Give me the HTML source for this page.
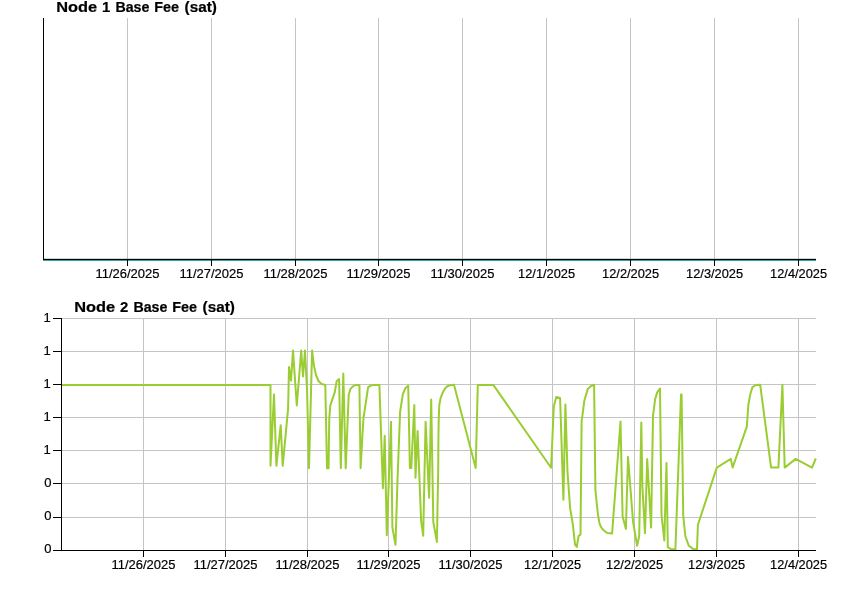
<!DOCTYPE html>
<html><head><meta charset="utf-8"><title>Base Fee Charts</title>
<style>
html,body{margin:0;padding:0;background:#fff;}
body{width:860px;height:600px;overflow:hidden;}
svg{display:block;}
text{font-family:"Liberation Sans",sans-serif;fill:#000;}
.t{font-weight:bold;font-size:15px;stroke:#000;stroke-width:.2px;}
.l{font-size:13px;stroke:#000;stroke-width:.2px;}
</style></head><body>
<svg width="860" height="600" viewBox="0 0 860 600">
<rect width="860" height="600" fill="#fff"/>
<g shape-rendering="crispEdges">
<rect x="127" y="18" width="1" height="241" fill="#c4c4c4"/>
<rect x="211" y="18" width="1" height="241" fill="#c4c4c4"/>
<rect x="295" y="18" width="1" height="241" fill="#c4c4c4"/>
<rect x="378" y="18" width="1" height="241" fill="#c4c4c4"/>
<rect x="462" y="18" width="1" height="241" fill="#c4c4c4"/>
<rect x="546" y="18" width="1" height="241" fill="#c4c4c4"/>
<rect x="630" y="18" width="1" height="241" fill="#c4c4c4"/>
<rect x="714" y="18" width="1" height="241" fill="#c4c4c4"/>
<rect x="798" y="18" width="1" height="241" fill="#c4c4c4"/>
</g>
<line x1="43" y1="259.8" x2="816" y2="259.8" stroke="#008080" stroke-width="2"/>
<g shape-rendering="crispEdges">
<rect x="43" y="18" width="1" height="242" fill="#000"/>
<rect x="43" y="259" width="773" height="1" fill="#000"/>
<rect x="127" y="260" width="1" height="6" fill="#000"/>
<rect x="211" y="260" width="1" height="6" fill="#000"/>
<rect x="295" y="260" width="1" height="6" fill="#000"/>
<rect x="378" y="260" width="1" height="6" fill="#000"/>
<rect x="462" y="260" width="1" height="6" fill="#000"/>
<rect x="546" y="260" width="1" height="6" fill="#000"/>
<rect x="630" y="260" width="1" height="6" fill="#000"/>
<rect x="714" y="260" width="1" height="6" fill="#000"/>
<rect x="798" y="260" width="1" height="6" fill="#000"/>
</g>
<text class="l" x="127.5" y="278.3" text-anchor="middle" textLength="64.0" lengthAdjust="spacingAndGlyphs">11/26/2025</text>
<text class="l" x="211.5" y="278.3" text-anchor="middle" textLength="64.0" lengthAdjust="spacingAndGlyphs">11/27/2025</text>
<text class="l" x="295.5" y="278.3" text-anchor="middle" textLength="64.0" lengthAdjust="spacingAndGlyphs">11/28/2025</text>
<text class="l" x="378.5" y="278.3" text-anchor="middle" textLength="64.0" lengthAdjust="spacingAndGlyphs">11/29/2025</text>
<text class="l" x="462.5" y="278.3" text-anchor="middle" textLength="64.0" lengthAdjust="spacingAndGlyphs">11/30/2025</text>
<text class="l" x="546.6" y="278.3" text-anchor="middle" textLength="57.0" lengthAdjust="spacingAndGlyphs">12/1/2025</text>
<text class="l" x="630.6" y="278.3" text-anchor="middle" textLength="57.0" lengthAdjust="spacingAndGlyphs">12/2/2025</text>
<text class="l" x="714.6" y="278.3" text-anchor="middle" textLength="57.0" lengthAdjust="spacingAndGlyphs">12/3/2025</text>
<text class="l" x="798.6" y="278.3" text-anchor="middle" textLength="57.0" lengthAdjust="spacingAndGlyphs">12/4/2025</text>
<text class="t" x="56.30" y="11.60" textLength="40.90" lengthAdjust="spacingAndGlyphs">Node</text>
<text class="t" x="101.90" y="11.60" textLength="8.30" lengthAdjust="spacingAndGlyphs">1</text>
<text class="t" x="115.40" y="11.60" textLength="34.00" lengthAdjust="spacingAndGlyphs">Base</text>
<text class="t" x="154.30" y="11.60" textLength="24.80" lengthAdjust="spacingAndGlyphs">Fee</text>
<text class="t" x="184.60" y="11.60" textLength="32.30" lengthAdjust="spacingAndGlyphs">(sat)</text>
<g shape-rendering="crispEdges">
<rect x="62" y="318" width="754" height="1" fill="#c4c4c4"/>
<rect x="62" y="351" width="754" height="1" fill="#c4c4c4"/>
<rect x="62" y="384" width="754" height="1" fill="#c4c4c4"/>
<rect x="62" y="417" width="754" height="1" fill="#c4c4c4"/>
<rect x="62" y="450" width="754" height="1" fill="#c4c4c4"/>
<rect x="62" y="483" width="754" height="1" fill="#c4c4c4"/>
<rect x="62" y="517" width="754" height="1" fill="#c4c4c4"/>
<rect x="143" y="318" width="1" height="232" fill="#c4c4c4"/>
<rect x="225" y="318" width="1" height="232" fill="#c4c4c4"/>
<rect x="307" y="318" width="1" height="232" fill="#c4c4c4"/>
<rect x="388" y="318" width="1" height="232" fill="#c4c4c4"/>
<rect x="470" y="318" width="1" height="232" fill="#c4c4c4"/>
<rect x="552" y="318" width="1" height="232" fill="#c4c4c4"/>
<rect x="634" y="318" width="1" height="232" fill="#c4c4c4"/>
<rect x="716" y="318" width="1" height="232" fill="#c4c4c4"/>
<rect x="798" y="318" width="1" height="232" fill="#c4c4c4"/>
</g>
<polyline fill="none" stroke="#9acd32" stroke-width="2" stroke-linejoin="round" points="61.5,384.9 270.5,384.9 270.5,465.8 274,394.6 276.4,465.8 280.7,425.2 282.7,465.8 288.1,408.6 289,367 291,380.6 293,350.6 296.8,405.5 301.2,350.6 303,376.4 305,350.6 307.1,392 309,468.2 312.1,350.6 314,366 316,375 318.5,381 321.6,384 325.3,384.9 327,468.2 328.6,468.2 328.9,442 329.3,418 330.3,405.4 334.8,392.1 336.6,381.3 339.1,379.1 340.8,468.2 343.3,373.6 345.7,468.2 348.7,394.9 350.2,389.5 352,387.2 354,385.6 356.5,384.9 359.4,384.9 360.6,468.2 362.6,432 363.5,418 366.2,400 368.1,387.4 370.5,385.6 374,384.9 379.4,384.9 382.9,488.3 384.7,435.8 386.8,535.3 391.0,421.8 392.4,527.6 395.5,544.7 397.5,480 400.1,412 402.9,393.8 405.5,388 408.2,385.7 409.9,468 411.3,468 414.3,405 415.5,477.8 417.6,430.9 421.1,520.6 423.2,535.7 425.6,421.8 429.1,497.7 431.2,399.4 433.3,522 436.9,541.9 438.2,470 438.4,440 438.7,420 439.3,405 440.6,398 442.8,392.4 445,388.6 447,386.5 450,385.2 454,384.8 475.7,468 477.8,384.9 493.3,384.9 551.1,467.7 553.8,406.4 556.3,396.9 560.1,398 563.4,499.8 565.4,404.6 567.5,472 570.1,508 572.9,524.8 575,544.4 576.8,547 578.5,536 580.5,534.6 581.6,421.8 584.3,400.8 587.8,388.9 591,386 594.1,384.8 595.4,490 596.7,503 598,515 599.5,523.4 601,527 603,529.7 607.2,533 612.1,533.6 620.5,421.5 622.6,516.4 625.9,529 628,457.0 633.1,522 637.1,545.8 639.2,536 641.3,422.5 642.4,487 645,533.2 647.2,459.0 651.1,527.6 653,416.2 655.1,399.4 657.2,392.4 660,388.5 661.5,515 664.3,540.5 666.5,462.9 667.8,547.2 670.6,548.9 675.4,549.6 681.0,394.6 681.6,394.6 683.2,515 685.3,536 688.8,545.8 693,548.9 697,549.3 697.9,524.8 716.8,467.6 730.8,458.9 732.6,467.6 746.9,426.3 748.3,405 750.4,393.8 752.5,387.1 756,385 760.2,384.8 771.1,467.6 778.4,467.6 782.4,384.8 784.7,467.6 795.7,458.9 812,467.6 815.8,458.5"/>
<g shape-rendering="crispEdges">
<rect x="61" y="318" width="1" height="233" fill="#000"/>
<rect x="61" y="550" width="755" height="1" fill="#000"/>
<rect x="53" y="318" width="8" height="1" fill="#000"/>
<rect x="53" y="351" width="8" height="1" fill="#000"/>
<rect x="53" y="384" width="8" height="1" fill="#000"/>
<rect x="53" y="417" width="8" height="1" fill="#000"/>
<rect x="53" y="450" width="8" height="1" fill="#000"/>
<rect x="53" y="483" width="8" height="1" fill="#000"/>
<rect x="53" y="517" width="8" height="1" fill="#000"/>
<rect x="53" y="550" width="8" height="1" fill="#000"/>
<rect x="143" y="551" width="1" height="6" fill="#000"/>
<rect x="225" y="551" width="1" height="6" fill="#000"/>
<rect x="307" y="551" width="1" height="6" fill="#000"/>
<rect x="388" y="551" width="1" height="6" fill="#000"/>
<rect x="470" y="551" width="1" height="6" fill="#000"/>
<rect x="552" y="551" width="1" height="6" fill="#000"/>
<rect x="634" y="551" width="1" height="6" fill="#000"/>
<rect x="716" y="551" width="1" height="6" fill="#000"/>
<rect x="798" y="551" width="1" height="6" fill="#000"/>
</g>
<text class="l" x="50.8" y="322.4" text-anchor="end">1</text>
<text class="l" x="50.8" y="355.4" text-anchor="end">1</text>
<text class="l" x="50.8" y="388.4" text-anchor="end">1</text>
<text class="l" x="50.8" y="421.4" text-anchor="end">1</text>
<text class="l" x="50.8" y="454.4" text-anchor="end">1</text>
<text class="l" x="51.4" y="487.4" text-anchor="end">0</text>
<text class="l" x="51.4" y="520.4" text-anchor="end">0</text>
<text class="l" x="51.4" y="553.4" text-anchor="end">0</text>
<text class="l" x="143.5" y="568.5" text-anchor="middle" textLength="64.0" lengthAdjust="spacingAndGlyphs">11/26/2025</text>
<text class="l" x="225.5" y="568.5" text-anchor="middle" textLength="64.0" lengthAdjust="spacingAndGlyphs">11/27/2025</text>
<text class="l" x="307.5" y="568.5" text-anchor="middle" textLength="64.0" lengthAdjust="spacingAndGlyphs">11/28/2025</text>
<text class="l" x="388.5" y="568.5" text-anchor="middle" textLength="64.0" lengthAdjust="spacingAndGlyphs">11/29/2025</text>
<text class="l" x="470.5" y="568.5" text-anchor="middle" textLength="64.0" lengthAdjust="spacingAndGlyphs">11/30/2025</text>
<text class="l" x="552.6" y="568.5" text-anchor="middle" textLength="57.0" lengthAdjust="spacingAndGlyphs">12/1/2025</text>
<text class="l" x="634.6" y="568.5" text-anchor="middle" textLength="57.0" lengthAdjust="spacingAndGlyphs">12/2/2025</text>
<text class="l" x="716.6" y="568.5" text-anchor="middle" textLength="57.0" lengthAdjust="spacingAndGlyphs">12/3/2025</text>
<text class="l" x="798.6" y="568.5" text-anchor="middle" textLength="57.0" lengthAdjust="spacingAndGlyphs">12/4/2025</text>
<text class="t" x="74.30" y="311.65" textLength="40.90" lengthAdjust="spacingAndGlyphs">Node</text>
<text class="t" x="119.90" y="311.65" textLength="8.30" lengthAdjust="spacingAndGlyphs">2</text>
<text class="t" x="133.40" y="311.65" textLength="34.00" lengthAdjust="spacingAndGlyphs">Base</text>
<text class="t" x="172.30" y="311.65" textLength="24.80" lengthAdjust="spacingAndGlyphs">Fee</text>
<text class="t" x="202.60" y="311.65" textLength="32.30" lengthAdjust="spacingAndGlyphs">(sat)</text>
</svg>
</body></html>
